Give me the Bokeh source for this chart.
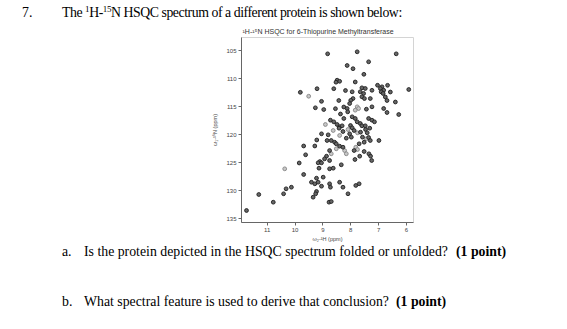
from bokeh.plotting import figure
from bokeh.models import Range1d, FixedTicker, Div
from bokeh.layouts import column
from bokeh.embed import file_html
from bokeh.resources import INLINE

# ---- data ----
dark_h = [8.83, 7.77, 6.37, 7.36, 8.13, 7.92, 7.53, 8.49, 8.40, 8.53, 7.84, 9.81, 9.21, 8.61, 8.19,
          7.60, 7.48, 7.66, 7.54, 7.60, 7.51, 7.95, 7.24, 7.04, 6.88, 6.94, 6.82, 6.91, 6.84, 6.68,
          6.58, 5.92, 7.92, 7.30, 6.76, 6.70, 6.40, 8.43, 9.05, 8.00, 8.04, 9.27, 8.97, 8.55, 8.25,
          8.13, 8.11, 8.37, 7.44, 7.24, 6.82, 6.70, 6.28, 8.25, 7.95, 7.84, 7.77, 7.66, 7.60, 7.36,
          7.24, 7.15, 7.48, 8.73, 8.61, 8.49, 8.40, 8.31, 8.01, 7.95, 9.05, 8.81, 8.42, 8.28, 8.04,
          7.98, 8.16, 8.85, 8.70, 8.58, 8.52, 8.40, 8.28, 8.76, 8.87, 8.94, 9.22, 9.69, 9.29, 9.62,
          7.88, 7.65, 7.47, 7.41, 7.58, 7.52, 7.70, 7.88, 7.32, 6.99, 7.52, 7.35, 7.29, 7.68, 7.25,
          7.85, 7.36, 7.30, 9.11, 9.17, 9.05, 8.76, 9.85, 9.14, 8.76, 8.63, 8.34, 9.69, 9.23, 8.99,
          9.41, 9.29, 9.17, 9.05, 8.76, 8.73, 8.40, 8.28, 9.23, 9.26, 8.10, 9.35, 8.78, 8.70, 7.82,
          7.70, 10.13, 10.32, 10.41, 11.30, 10.78, 11.74]
dark_n = [105.59, 105.23, 105.59, 107.01, 107.67, 108.24, 109.24, 110.29, 110.49, 110.65, 110.61,
          112.45, 111.81, 111.81, 112.13, 111.65, 111.77, 112.36, 112.66, 113.25, 113.56, 112.36,
          112.09, 111.19, 111.47, 111.77, 112.08, 112.36, 112.66, 111.20, 112.40, 111.95, 113.56,
          113.56, 113.29, 113.91, 114.18, 113.91, 114.06, 113.88, 114.45, 115.21, 115.52, 115.37,
          115.07, 115.34, 115.93, 116.32, 115.46, 115.04, 115.34, 116.05, 116.41, 117.12, 116.82,
          117.12, 117.71, 118.01, 118.42, 117.12, 117.42, 117.71, 118.42, 117.42, 117.71, 118.19,
          118.60, 118.42, 118.37, 118.78, 119.85, 120.03, 118.85, 119.44, 119.85, 120.45, 120.63,
          121.04, 121.04, 121.35, 121.63, 122.06, 122.24, 122.83, 123.84, 124.31, 120.95, 122.02,
          122.02, 123.59, 119.26, 119.56, 119.08, 119.67, 120.45, 121.35, 121.63, 122.83, 118.85,
          121.04, 123.00, 123.41, 123.84, 123.84, 124.61, 124.43, 120.51, 121.04, 124.79, 125.02,
          125.02, 124.61, 125.05, 125.98, 126.09, 125.98, 125.37, 127.10, 127.76, 127.58, 128.48,
          128.76, 128.48, 129.19, 128.76, 129.37, 128.48, 129.37, 130.13, 130.54, 130.54, 131.15,
          132.04, 131.92, 129.06, 128.76, 129.37, 129.65, 130.54, 130.67, 132.04, 133.52]
light_h = [9.51, 7.77, 7.72, 7.84, 8.91, 8.63, 8.10, 8.40, 8.52, 8.22, 8.16, 8.70, 7.76, 7.44,
           7.82, 7.76, 10.37]
light_n = [113.15, 115.04, 115.34, 115.64, 118.19, 119.26, 119.08, 120.15, 122.52, 122.83,
           123.41, 123.41, 119.67, 120.74, 122.24, 122.65, 126.09]

x_ticks = [6, 7, 8, 9, 10, 11]
y_ticks = [105, 110, 115, 120, 125, 130, 135]

chart_title = "\u00b9H-\u00b9\u2075N HSQC for 6-Thiopurine Methyltransferase"
x_title = "\u03c9\u2082-\u00b9H (ppm)"
y_title = "\u03c9\u2081-\u00b9\u2075N (ppm)"

SUP = '<sup style="font-size:9px;line-height:0;vertical-align:5px">'
question_no = "7."
intro = f"The {SUP}1</sup>H-{SUP}15</sup>N HSQC spectrum of a different protein is shown below:"
q_a = "Is the protein depicted in the HSQC spectrum folded or unfolded?"
q_b = "What spectral feature is used to derive that conclusion?"
pts = "(1 point)"

# ---- layout constants (page pixels) ----
W = 567
TOP_H = 22            # header text band
FIG_TOP, FIG_BOT = 22, 244
FL, FR, FT, FB = 241, 413, 37, 222
BOT_H = 329 - FIG_BOT

serif = ("font-family:'Liberation Serif','Times New Roman',serif;font-size:13.8px;color:#000;"
         "line-height:16px;white-space:nowrap;")


def span(left, top, text, bold=False, extra=""):
    w = "font-weight:bold;" if bold else ""
    return f'<span style="position:absolute;left:{left}px;top:{top}px;{w}{extra}">{text}</span>'


top_html = (f'<div style="position:relative;width:{W}px;height:{TOP_H}px;{serif}">'
            + span(22, 5, question_no)
            + span(62, 5, intro, extra="letter-spacing:-0.45px;") + '</div>')
bot_html = (f'<div style="position:relative;width:{W}px;height:{BOT_H}px;{serif}">'
            + span(62, 0, "a.") + span(84, 0, q_a) + span(456, 0, pts, True)
            + span(62, 50, "b.") + span(84, 50, q_b) + span(396, 50, pts, True) + '</div>')

top_div = Div(text=top_html, width=W, height=TOP_H, margin=0)
bot_div = Div(text=bot_html, width=W, height=BOT_H, margin=0)

p = figure(width=W, height=FIG_BOT - FIG_TOP, output_backend="svg", toolbar_location=None,
           x_range=Range1d(11.92, 5.75), y_range=Range1d(135.66, 102.68),
           min_border_left=FL, min_border_right=W - FR, min_border_top=FT - FIG_TOP,
           min_border_bottom=FIG_BOT - FB, margin=0,
           background_fill_color="white", border_fill_color="white")
p.grid.visible = False
p.outline_line_color = "#d4d4d4"
p.outline_line_width = 1

for ax in (p.xaxis[0], p.yaxis[0]):
    ax.major_label_text_font = "Liberation Sans"
    ax.major_label_text_font_size = "6px"
    ax.major_label_text_color = "#444444"
    ax.axis_label_text_font = "Liberation Sans"
    ax.axis_label_text_font_size = "5.5px"
    ax.axis_label_text_font_style = "normal"
    ax.axis_label_text_color = "#444444"
    ax.axis_line_color = "#666666"
    ax.major_tick_line_color = "#666666"
    ax.major_tick_out = 3
    ax.major_tick_in = 0
    ax.minor_tick_line_color = None
    ax.major_label_standoff = 2

p.xaxis.ticker = FixedTicker(ticks=x_ticks)
p.yaxis.ticker = FixedTicker(ticks=y_ticks)
p.xaxis.axis_label = x_title
p.yaxis.axis_label = y_title
p.xaxis.axis_label_standoff = 1
p.yaxis.axis_label_standoff = 5

p.title.text = chart_title
p.title.text_font = "Liberation Sans"
p.title.text_font_size = "7px"
p.title.text_font_style = "normal"
p.title.text_color = "#333333"
p.title.align = "left"
p.title.offset = 1
p.title.standoff = 6

p.scatter(light_h, light_n, marker="circle", size=3.8, fill_color="#c8c8c8",
          line_color="#858585", line_width=0.9)
p.scatter(dark_h, dark_n, marker="circle", size=3.8, fill_color="#666666",
          line_color="#1f1f1f", line_width=0.9)

layout = column(top_div, p, bot_div, spacing=0, margin=0)
open("out.html", "w").write(file_html(layout, INLINE))
